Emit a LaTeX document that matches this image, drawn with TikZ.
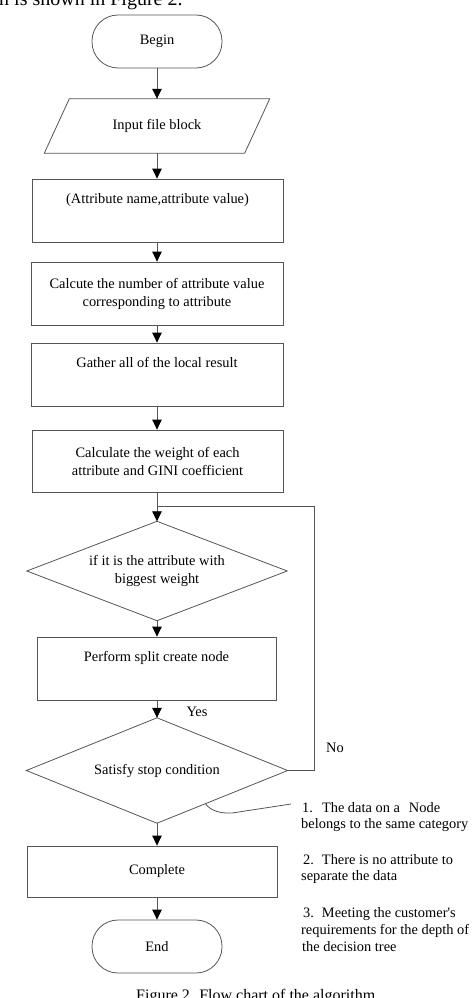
\documentclass[tikz,border=0pt]{standalone}
\usepackage{fontspec}
\setmainfont{Liberation Serif}
\usetikzlibrary{arrows.meta,calc}
\definecolor{linec}{HTML}{555555}
\newcommand\boxfont{\fontsize{14.4}{18}\selectfont}
\begin{document}
\begin{tikzpicture}[x=1pt,y=-1pt,
  blk/.style={draw=linec, line width=0.8pt, inner sep=0pt, align=center, font=\boxfont},
  ghost/.style={inner sep=0pt, align=center, font=\boxfont},
  shp/.style={draw=linec, line width=0.8pt},
  ln/.style={draw=linec, line width=0.8pt},
  arr/.style={draw=linec, line width=0.8pt, -{Triangle[length=10pt,width=9.5pt,color=black,fill=black]}},
  note/.style={inner sep=0pt, anchor=base west, font=\boxfont}]
\useasboundingbox (0,0) rectangle (474,998);

% surrounding text of the page
\node[inner sep=0pt, anchor=base west, font=\fontsize{20}{24}\selectfont] (toptext) at (-1,6) {n is shown in Figure 2.};
\node[inner sep=0pt, anchor=base west, font=\fontsize{16}{19}\selectfont] (caption) at (136,1000) {Figure 2. Flow chart of the algorithm};

% nodes
\node[blk, rounded corners=26pt, minimum width=130pt, minimum height=53pt] (begin) at (157,41.5) {Begin};
\node[ghost, minimum width=200pt, minimum height=54pt] (input) at (157,126) {Input file block};
\draw[shp] ([xshift=12.5pt]input.north west) -- ([xshift=12.5pt]input.north east)
  -- ([xshift=-12.5pt]input.south east) -- ([xshift=-12.5pt]input.south west) -- cycle;
\node[blk, minimum width=251pt, minimum height=63pt] (b1) at (157.5,210.5) {(Attribute name,attribute value)\\\strut};
\node[blk, minimum width=252pt, minimum height=63pt] (b2) at (157,293.5) {Calcute the number of attribute value\\corresponding to attribute};
\node[blk, minimum width=252pt, minimum height=63pt] (b3) at (157,374.5) {Gather all of the local result\\\strut};
\node[blk, minimum width=251pt, minimum height=62pt] (b4) at (157.5,461) {Calculate the weight of each\\attribute and GINI coefficient};
\node[ghost, minimum width=260pt, minimum height=99pt] (d1) at (157,571) {if it is the attribute with\\biggest weight};
\draw[shp] (d1.north) -- (d1.east) -- (d1.south) -- (d1.west) -- cycle;
\node[blk, minimum width=239pt, minimum height=63pt] (b5) at (156.5,668.5) {Perform split create node\\\strut};
\node[ghost, minimum width=261pt, minimum height=105pt] (d2) at (157,770.5) {Satisfy stop condition};
\draw[shp] (d2.north) -- (d2.east) -- (d2.south) -- (d2.west) -- cycle;
\node[blk, minimum width=250pt, minimum height=51pt] (b6) at (152,871.5) {\hspace*{10pt}Complete};
\node[blk, rounded corners=26pt, minimum width=130pt, minimum height=53pt] (end) at (157,946.5) {End};

% connectors
\draw[arr] (begin.south) -- (input.north);
\draw[arr] (input.south) -- (input.south |- b1.north);
\draw[arr] (input.south |- b1.south) -- (input.south |- b2.north);
\draw[arr] (b2.south) -- (b3.north);
\draw[arr] (b3.south) -- (b3.south |- b4.north);
\draw[arr] (b3.south |- b4.south) -- (d1.north);
\draw[arr] (d1.south) -- (d1.south |- b5.north);
\draw[arr] (d1.south |- b5.south) -- (d2.north);
\draw[arr] (d2.south) -- (d2.south |- b6.north);
\draw[arr] (end.north |- b6.south) -- (end.north);
\coordinate (fb) at (314,506);
\draw[ln] (d2.east) -| (fb) -- (fb -| d1.north);

% labels
\node[inner sep=0pt, anchor=base, font=\boxfont] (yes) at (197,716) {Yes};
\node[inner sep=0pt, anchor=base west, font=\boxfont] (no) at (326,752) {No};

% callout
\coordinate (cs) at ($(d2.south)!0.37!(d2.east)$);
\coordinate (ce) at (291,804);
\draw[ln] (cs) .. controls (211,811) and (220,813.5) .. (232,813) -- (ce);

% notes
\node[note] (n1a) at (302,812) {1.\hspace{9pt}The data on a\hspace{9pt}Node};
\node[note] (n1b) at (301,828) {belongs to the same category};
\node[note] (n2a) at (303,864) {2.\hspace{8pt}There is no attribute to};
\node[note] (n2b) at (301,880) {separate the data};
\node[note] (n3a) at (303,917) {3.\hspace{8pt}Meeting the customer\textquotesingle s};
\node[note] (n3b) at (301,934) {requirements for the depth of};
\node[note] (n3c) at (302,951) {the decision tree};
\end{tikzpicture}
\end{document}
